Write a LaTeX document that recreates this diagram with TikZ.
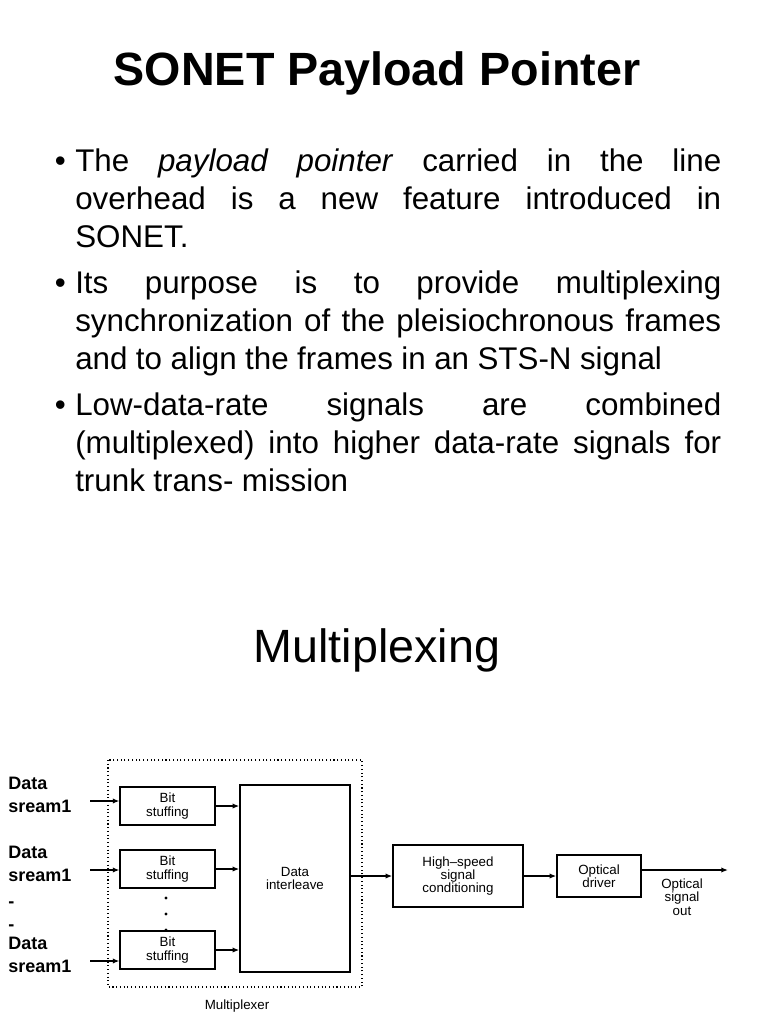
\documentclass[tikz,border=0pt]{standalone}
\usepackage{fontspec}
\setmainfont{Liberation Sans}
\usetikzlibrary{arrows.meta}
\begin{document}
\begin{tikzpicture}[x=0.75pt,y=-0.75pt,
  blk/.style={draw,line width=1.1pt,inner sep=0pt,align=center,font=\fontsize{10}{10}\selectfont},
  arr/.style={-{Latex[length=5pt,width=4pt]},line width=1pt},
  lbl/.style={anchor=north west,align=left,font=\bfseries\fontsize{13.5}{17}\selectfont,inner sep=0pt}]
\useasboundingbox (0,0) rectangle (768,1024);
\node (title) at (377,73) {\bfseries\fontsize{35}{38}\selectfont SONET Payload Pointer};
\node[anchor=north west,text width=507pt,align=justify,inner sep=0pt,font=\fontsize{23.5}{28.5}\selectfont] (body) at (45,133) {%
\hyphenpenalty=10000\exhyphenpenalty=10000\spaceskip=0.27em plus 2em minus 0.12em
\begin{list}{\textbullet}{\leftmargin=22.5pt\labelwidth=15pt\labelsep=7pt\itemsep=6pt\parsep=0pt\topsep=0pt}
\item The \textit{payload pointer} carried in the line\linebreak overhead is a new feature introduced in\linebreak SONET.
\item Its purpose is to provide multiplexing\linebreak synchronization of the pleisiochronous frames\linebreak and to align the frames in an STS-N signal
\item Low-data-rate signals are combined\linebreak (multiplexed) into higher data-rate signals for\linebreak trunk trans- mission
\end{list}};
\node (mux) at (377,650) {\fontsize{35}{38}\selectfont Multiplexing};
% diagram
\draw[dotted,line width=0.8pt] (108,760) rectangle (362,987);
\node[blk,minimum width=71pt,minimum height=28.5pt] (b1) at (167.5,806) {Bit\\stuffing};
\node[blk,minimum width=71pt,minimum height=28.5pt] (b2) at (167.5,869) {Bit\\stuffing};
\node[blk,minimum width=71pt,minimum height=28.5pt] (b3) at (167.5,950) {Bit\\stuffing};
\node[blk,minimum width=82.5pt,minimum height=140pt] (di) at (295,878.5) {Data\\interleave};
\node[blk,minimum width=97.5pt,minimum height=46.5pt] (hs) at (458,876) {High--speed\\signal\\conditioning};
\node[blk,minimum width=63pt,minimum height=31.5pt] (od) at (599,876) {Optical\\driver};
\node[font=\fontsize{10}{10}\selectfont,align=center] (out) at (682,897) {Optical\\signal\\out};
\node[font=\fontsize{10}{10}\selectfont] (mlab) at (237,1006) {Multiplexer};
\foreach \i/\y in {1/786,2/855,3/946}{
  \node[lbl] (d\i) at (8,\y-9) {Data\\sream1};
  \coordinate (s\i) at (90,\y+15);
}
\node[lbl,anchor=base west] (dash1) at (8,907) {-};
\node[lbl,anchor=base west] (dash2) at (8,930) {-};
\draw[arr] (s1) -- (s1 -| b1.west);
\draw[arr] (s2) -- (s2 -| b2.west);
\draw[arr] (s3) -- (s3 -| b3.west);
\draw[arr] (b1.east) -- (b1.east -| di.west);
\draw[arr] (b2.east) -- (b2.east -| di.west);
\draw[arr] (b3.east) -- (b3.east -| di.west);
\draw[arr] (di.east |- hs.west) -- (hs.west);
\draw[arr] (hs.east) -- (od.west);
\coordinate (end) at (728,870);
\draw[arr] (od.east |- end) -- (end);
\foreach \y in {898,914,930}{\fill (166,\y) circle (1.3pt);}
\end{tikzpicture}
\end{document}
